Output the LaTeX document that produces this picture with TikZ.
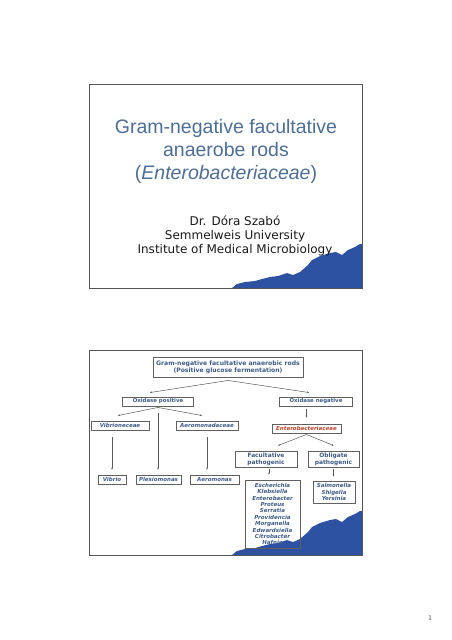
\documentclass[tikz,border=0pt]{standalone}
\usepackage{fontspec}
\usepackage{xcolor}
\usetikzlibrary{arrows.meta,positioning}
\newfontfamily\arialfont{Liberation Sans}
\newfontfamily\verdfont{DejaVu Sans}
\definecolor{ink}{HTML}{1A1A1A}
\definecolor{slideblue}{HTML}{4C6E98}
\definecolor{boxtext}{HTML}{3E5C88}
\definecolor{entero}{HTML}{C4452C}
\definecolor{wave}{HTML}{2D52A2}
\definecolor{frame}{HTML}{555555}

\begin{document}
\begin{tikzpicture}[
  x=1pt, y=-1pt,
  slide/.style={draw=frame, line width=0.9pt},
  title/.style={align=center, text=slideblue, font=\arialfont\fontsize{19.5}{23}\selectfont},
  speaker/.style={align=center, text=ink, font=\verdfont\fontsize{12}{14}\selectfont},
  box/.style={draw=gray!75!black, line width=0.9pt, align=center, inner sep=1pt, minimum height=9pt, text=boxtext, font=\verdfont\bfseries\fontsize{5.4}{6.4}\selectfont},
  bigbox/.style={box, font=\verdfont\bfseries\fontsize{5.9}{6.9}\selectfont},
  genus/.style={box, font=\verdfont\bfseries\itshape\fontsize{5.5}{6.4}\selectfont},
  link/.style={draw=gray!70!black, line width=0.5pt, -{Stealth[length=2pt,width=1.8pt]}}
]
  \fill[white] (0,0) rectangle (452,640);
  \useasboundingbox (0,0) rectangle (452,640);

  % waves in the lower right corner of both slides
  \foreach \bot in {288,555} {
    \fill[wave] (362,\bot) ++(-130,0) -- ++(5,-4) -- ++(8,-2) -- ++(10,-1) -- ++(7,-2)
      -- ++(8,-2) -- ++(8,-1) -- ++(9,-3) -- ++(6,2) -- ++(7,-3) -- ++(8,-7) -- ++(4,-5)
      -- ++(8,-4) -- ++(10,-3) -- ++(6,-1) -- ++(6,3) -- ++(6,-5) -- ++(7,-3) -- ++(5,-3)
      -- ++(2,0) -- (362,\bot) -- cycle;
  }

  % first slide
  \draw[slide] (89,84) rectangle (362,288);
  \node[title] (maintitle) at (226,151) {Gram-negative facultative\\anaerobe rods\\(\textit{Enterobacteriaceae})};
  \node[speaker] (author) at (235,236) {Dr. Dóra Szabó\\Semmelweis University\\Institute of Medical Microbiology};

  % second slide
  \draw[slide] (89,350) rectangle (362,555);
  \node[bigbox, minimum width=150pt, minimum height=20pt, font=\verdfont\bfseries\fontsize{6.1}{7}\selectfont] (rods) at (228,367) {Gram-negative facultative anaerobic rods\\(Positive glucose fermentation)};
  \node[box, minimum width=71pt] (oxpos) at (158,401.5) {Oxidase positive};
  \node[box, minimum width=73pt] (oxneg) at (316,401.5) {Oxidase negative};
  \node[genus, minimum width=58pt] (vibfam) at (120,425.5) {Vibrioneceae};
  \node[genus, minimum width=62pt] (aerfam) at (207,425.5) {Aeromonadaceae};
  \node[genus, minimum width=69pt, text=entero] (enterfam) at (306.5,428.5) {Enterobacteriaceae};
  \node[genus, minimum width=28pt] (vibrio) at (112,479.5) {Vibrio};
  \node[genus, minimum width=45pt] (plesio) at (158.5,479.5) {Plesiomonas};
  \node[genus, minimum width=49pt] (aeromonas) at (214.5,479.5) {Aeromonas};
  \node[bigbox, minimum width=62pt, minimum height=16pt] (facult) at (266,459) {Facultative\\pathogenic};
  \node[bigbox, minimum width=51pt, minimum height=16pt] (oblig) at (333.5,459) {Obligate\\pathogenic};
  \node[genus, minimum width=55pt, minimum height=68pt] (faclist) at (272.5,514) {Escherichia\\Klebsiella\\Enterobacter\\Proteus\\Serratia\\Providencia\\Morganella\\Edwardsiella\\Citrobacter\\Hafnia};
  \node[genus, minimum width=42pt, minimum height=22pt] (obllist) at (334,492) {Salmonella\\Shigella\\Yersinia};

  \coordinate (rodsfork) at ([yshift=-3pt]rods.south);
  \coordinate (posfork) at ([yshift=-1pt]oxpos.south);
  \coordinate (enterfork) at ([yshift=-1pt]enterfam.south);
  \draw[link] (rodsfork) -- ([xshift=-8pt,yshift=4pt]oxpos.north);
  \draw[link] (rodsfork) -- ([xshift=-7pt,yshift=4pt]oxneg.north);
  \draw[link] (posfork) -- ([xshift=-2pt,yshift=5pt]vibfam.north);
  \draw[link] (posfork) -- ([xshift=-5pt,yshift=5pt]aerfam.north);
  \draw[link, shorten <=7pt, shorten >=5pt] (oxpos.south) -- (oxpos.south |- plesio.north);
  \draw[link, shorten <=7pt, shorten >=5pt] (vibfam.south -| vibrio.north) -- (vibrio.north);
  \draw[link, shorten <=7pt, shorten >=5pt] (aerfam.south) -- (aerfam.south |- aeromonas.north);
  \draw[link, shorten <=3pt, shorten >=6pt] (oxneg.south -| enterfam.north) -- (enterfam.north);
  \draw[link] (enterfork) -- ([xshift=12pt,yshift=5pt]facult.north);
  \draw[link] (enterfork) -- ([yshift=5pt]oblig.north);
  \draw[link, shorten <=2pt, shorten >=5pt] ([xshift=3pt]facult.south) -- ([xshift=3pt]facult.south |- faclist.north);
  \draw[link, shorten <=2pt, shorten >=4pt] (oblig.south) -- (oblig.south |- obllist.north);

  \node[font=\fontsize{7.5}{8}\selectfont, text=gray!40!black] (pagenum) at (430,618) {1};
\end{tikzpicture}
\end{document}
